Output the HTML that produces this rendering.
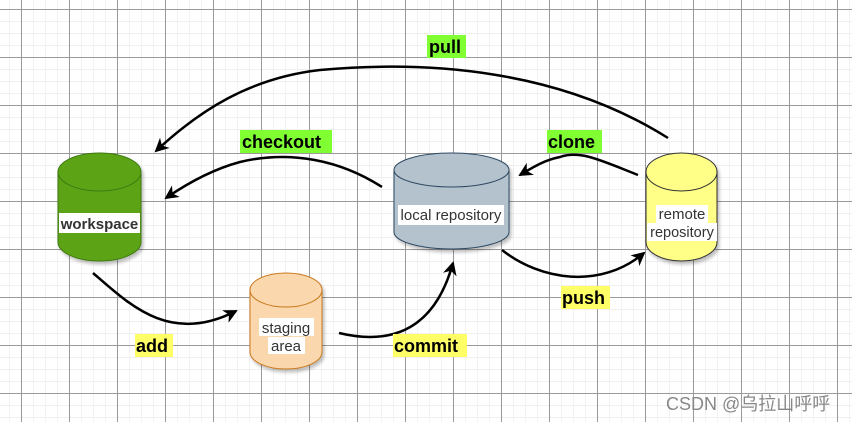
<!DOCTYPE html>
<html><head><style>
body{margin:0;width:852px;height:422px;overflow:hidden;background:#fff}
svg{display:block}
text{font-family:"Liberation Sans",sans-serif}
</style></head><body>
<svg width="852" height="422" viewBox="0 0 852 422">
<defs>
<pattern id="minor" width="12" height="12" patternUnits="userSpaceOnUse" x="9" y="9">
<path d="M0 0H12M0 0V12" stroke="#ececec" stroke-width="1.4" fill="none"/>
</pattern>
<pattern id="major" width="48" height="48" patternUnits="userSpaceOnUse" x="21" y="9">
<path d="M0 0.5H48M0.5 0V48" stroke="#9a9a9a" stroke-width="1" fill="none"/>
</pattern>
<marker id="ar" markerWidth="16" markerHeight="14" refX="12" refY="7" orient="auto" markerUnits="userSpaceOnUse">
<path d="M0 0L14 7L0 14L4 7Z" fill="#000"/>
</marker>
<filter id="sh"><feDropShadow dx="2" dy="3" stdDeviation="1.5" flood-opacity="0.25"/></filter>
</defs>
<rect width="852" height="422" fill="url(#minor)"/>
<rect width="852" height="422" fill="url(#major)"/>

<g stroke-width="2.5" fill="none" stroke="#000">
<path d="M668 138 C560 70 430 60 320 70 C250 78 200 110 156 151" marker-end="url(#ar)"/>
<path d="M382 187 C340 160 290 150 240 162 C210 170 185 185 166 198" marker-end="url(#ar)"/>
<path d="M638 175 C600 160 580 150 560 157 C545 160 535 166 520 175" marker-end="url(#ar)"/>
<path d="M502 250 C540 280 600 290 644 253" marker-end="url(#ar)"/>
<path d="M93 273 C130 305 170 345 236 311" marker-end="url(#ar)"/>
<path d="M339 333 C410 350 440 310 453 263" marker-end="url(#ar)"/>
</g>

<g filter="url(#sh)" stroke-width="1">
<path d="M58 172 A41.5 19 0 0 1 141 172 V242 A41.5 19 0 0 1 58 242 Z" fill="#5ca417" stroke="#3c7a10"/>
<path d="M58 172 A41.5 19 0 0 0 141 172" fill="none" stroke="#3c7a10"/>
<path d="M250 290 A36 17 0 0 1 322 290 V352 A36 17 0 0 1 250 352 Z" fill="#fad7ac" stroke="#c9781c"/>
<path d="M250 290 A36 17 0 0 0 322 290" fill="none" stroke="#c9781c"/>
<path d="M394 170 A57.5 17 0 0 1 509 170 V232 A57.5 17 0 0 1 394 232 Z" fill="#b4c2ce" stroke="#2f4a62"/>
<path d="M394 170 A57.5 17 0 0 0 509 170" fill="none" stroke="#2f4a62"/>
<path d="M646 172 A35.5 19 0 0 1 717 172 V242 A35.5 19 0 0 1 646 242 Z" fill="#ffff88" stroke="#333"/>
<path d="M646 172 A35.5 19 0 0 0 717 172" fill="none" stroke="#333"/>
</g>

<rect x="59" y="213" width="81" height="20" fill="#fff"/>
<text x="99.5" y="229" font-size="15" font-weight="bold" fill="#333" text-anchor="middle">workspace</text>
<rect x="259" y="318" width="55" height="18" fill="#fff"/><rect x="268" y="337" width="37" height="17" fill="#fff"/>
<text x="286" y="333" font-size="15" fill="#333" text-anchor="middle">staging</text>
<text x="286" y="351" font-size="15" fill="#333" text-anchor="middle">area</text>
<rect x="398" y="205" width="106" height="20" fill="#fff"/>
<text x="451" y="220" font-size="15" fill="#333" text-anchor="middle">local repository</text>
<rect x="656" y="205" width="52" height="18" fill="#fff"/><rect x="647" y="223" width="70" height="18" fill="#fff"/>
<text x="682" y="219" font-size="15" fill="#333" text-anchor="middle">remote</text>
<text x="682" y="237" font-size="14.5" fill="#333" text-anchor="middle">repository</text>

<g font-size="18" font-weight="bold" fill="#000">
<rect x="427" y="35" width="39" height="23" fill="#80ff33"/><text x="429" y="53">pull</text>
<rect x="240" y="130" width="92" height="23" fill="#80ff33"/><text x="242" y="148">checkout</text>
<rect x="547" y="130" width="55" height="23" fill="#80ff33"/><text x="548" y="148">clone</text>
<rect x="561" y="286" width="49" height="23" fill="#ffff66"/><text x="562" y="304">push</text>
<rect x="135" y="334" width="38" height="23" fill="#ffff66"/><text x="136" y="352">add</text>
<rect x="393" y="334" width="74" height="23" fill="#ffff66"/><text x="394" y="352">commit</text>
</g>
<text x="666" y="410" font-size="18" fill="#888" font-family="Liberation Sans, Noto Sans CJK SC, sans-serif">CSDN @乌拉山呼呼</text>
</svg>
</body></html>
